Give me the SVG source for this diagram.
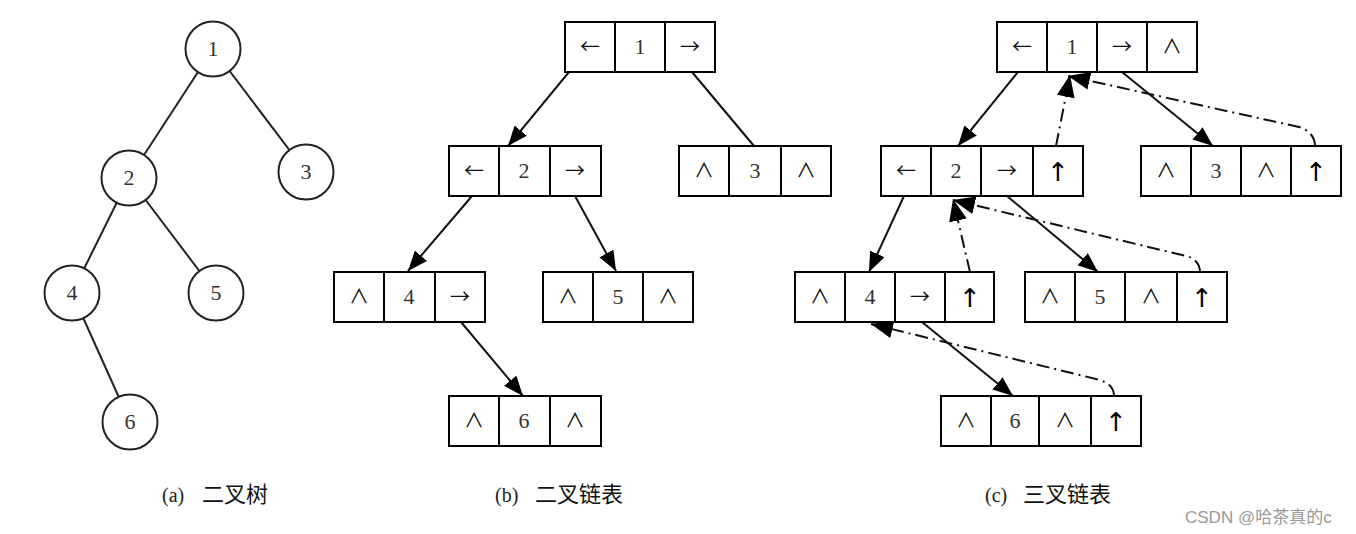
<svg xmlns="http://www.w3.org/2000/svg" width="1356" height="534" viewBox="0 0 1356 534">
<defs>
<marker id="ah" markerUnits="userSpaceOnUse" markerWidth="22" markerHeight="16" refX="20" refY="8" orient="auto">
<path d="M0,0 L20,8 L0,16 z" fill="#000"/>
</marker>
<marker id="ahp" markerUnits="userSpaceOnUse" markerWidth="24" markerHeight="18" refX="22" refY="9" orient="auto">
<path d="M0,0 L22,9 L0,18 z" fill="#000"/>
</marker>
</defs>
<style>
.c{fill:#fff;stroke:#222;stroke-width:2}
.cell{fill:#fff;stroke:#000;stroke-width:2}
.tl{stroke:#222;stroke-width:2;fill:none}
.ar{stroke:#111;stroke-width:2;fill:none;marker-end:url(#ah)}
.ln{stroke:#111;stroke-width:2;fill:none}
.pa{stroke:#111;stroke-width:2;fill:none;stroke-dasharray:13 5 2 5;marker-end:url(#ahp)}
.n{font-family:"Liberation Serif",serif;font-size:22px;fill:#333;text-anchor:middle}
.s{font-family:"Noto Sans CJK SC","DejaVu Sans",sans-serif;font-size:20px;fill:#111;text-anchor:middle}
.u{font-family:"DejaVu Sans",sans-serif;font-size:26px;fill:#000;text-anchor:middle;font-variant-emoji:text}
.lab{font-family:"Liberation Serif","Noto Sans CJK SC",serif;font-size:20px;fill:#222}
.zh{font-family:"Noto Sans CJK SC",sans-serif;font-size:22px;fill:#111}
.wm{font-family:"Liberation Sans","Noto Sans CJK SC",sans-serif;font-size:17px;fill:#999}
</style>
<rect width="1356" height="534" fill="#fff"/>

<g id="tree-a">
<g id="tree-edges">
<line class="tl" x1="213" y1="49" x2="129" y2="178"/>
<line class="tl" x1="213" y1="49" x2="306" y2="172"/>
<line class="tl" x1="129" y1="178" x2="72" y2="293"/>
<line class="tl" x1="129" y1="178" x2="216" y2="293"/>
<line class="tl" x1="72" y1="293" x2="130" y2="422"/>
</g>
<g id="a1"><circle class="c" cx="213" cy="49" r="27.5"/><text class="n" x="213" y="56">1</text></g>
<g id="a2"><circle class="c" cx="129" cy="178" r="27.5"/><text class="n" x="129" y="185">2</text></g>
<g id="a3"><circle class="c" cx="306" cy="172" r="27.5"/><text class="n" x="306" y="179">3</text></g>
<g id="a4"><circle class="c" cx="72" cy="293" r="27.5"/><text class="n" x="72" y="300">4</text></g>
<g id="a5"><circle class="c" cx="216" cy="293" r="27.5"/><text class="n" x="216" y="300">5</text></g>
<g id="a6"><circle class="c" cx="130" cy="422" r="27.5"/><text class="n" x="130" y="429">6</text></g>
</g>

<g id="connectors-b">
<line class="ar" x1="569" y1="72" x2="508" y2="146"/>
<line class="ln" x1="692" y1="72" x2="754" y2="146"/>
<line class="ar" x1="472" y1="196" x2="408" y2="271"/>
<line class="ar" x1="575" y1="196" x2="616" y2="271"/>
<line class="ar" x1="461" y1="322" x2="523" y2="396"/>
</g>

<g id="b1">
<rect class="cell" x="565" y="22" width="50" height="50"/><rect class="cell" x="615" y="22" width="50" height="50"/><rect class="cell" x="665" y="22" width="50" height="50"/>
<text class="s" x="590" y="54">←</text><text class="n" x="640" y="54">1</text><text class="s" x="690" y="54">→</text>
</g>
<g id="b2">
<rect class="cell" x="449" y="146" width="50" height="50"/><rect class="cell" x="499" y="146" width="51" height="50"/><rect class="cell" x="550" y="146" width="51" height="50"/>
<text class="s" x="474" y="178">←</text><text class="n" x="524" y="178">2</text><text class="s" x="575" y="178">→</text>
</g>
<g id="b3">
<rect class="cell" x="679" y="146" width="50" height="50"/><rect class="cell" x="729" y="146" width="52" height="50"/><rect class="cell" x="781" y="146" width="50" height="50"/>
<text class="s" x="704" y="178">∧</text><text class="n" x="755" y="178">3</text><text class="s" x="806" y="178">∧</text>
</g>
<g id="b4">
<rect class="cell" x="334" y="272" width="50" height="50"/><rect class="cell" x="384" y="272" width="51" height="50"/><rect class="cell" x="435" y="272" width="50" height="50"/>
<text class="s" x="359" y="304">∧</text><text class="n" x="409" y="304">4</text><text class="s" x="460" y="304">→</text>
</g>
<g id="b5">
<rect class="cell" x="543" y="272" width="50" height="50"/><rect class="cell" x="593" y="272" width="50" height="50"/><rect class="cell" x="643" y="272" width="50" height="50"/>
<text class="s" x="568" y="304">∧</text><text class="n" x="618" y="304">5</text><text class="s" x="668" y="304">∧</text>
</g>
<g id="b6">
<rect class="cell" x="449" y="396" width="50" height="50"/><rect class="cell" x="499" y="396" width="51" height="50"/><rect class="cell" x="550" y="396" width="51" height="50"/>
<text class="s" x="474" y="428">∧</text><text class="n" x="524" y="428">6</text><text class="s" x="575" y="428">∧</text>
</g>

<g id="connectors-c">
<line class="ar" x1="1018" y1="72" x2="958" y2="146"/>
<line class="ar" x1="1122" y1="72" x2="1213" y2="146"/>
<line class="ar" x1="904" y1="196" x2="869" y2="272"/>
<line class="ar" x1="1007" y1="196" x2="1098" y2="272"/>
<line class="ar" x1="922" y1="322" x2="1013" y2="396"/>
<path class="pa" d="M1056,146 L1070,75"/>
<path class="pa" d="M1315,146 C1315,137 1309,130 1299,127 L1068,76"/>
<path class="pa" d="M970,272 L953,199"/>
<path class="pa" d="M1200,272 C1200,264 1195,258 1186,256 L953,200"/>
<path class="pa" d="M1114,396 C1114,388 1109,383 1100,380 L871,324"/>
</g>

<g id="c1">
<rect class="cell" x="997" y="22" width="50" height="50"/><rect class="cell" x="1047" y="22" width="50" height="50"/><rect class="cell" x="1097" y="22" width="50" height="50"/><rect class="cell" x="1147" y="22" width="50" height="50"/>
<text class="s" x="1022" y="54">←</text><text class="n" x="1072" y="54">1</text><text class="s" x="1122" y="54">→</text><text class="s" x="1172" y="54">∧</text>
</g>
<g id="c2">
<rect class="cell" x="881" y="146" width="50" height="50"/><rect class="cell" x="931" y="146" width="50" height="50"/><rect class="cell" x="981" y="146" width="52" height="50"/><rect class="cell" x="1033" y="146" width="50" height="50"/>
<text class="s" x="906" y="178">←</text><text class="n" x="956" y="178">2</text><text class="s" x="1007" y="178">→</text><text class="u" x="1058" y="181">↑</text>
</g>
<g id="c3">
<rect class="cell" x="1141" y="146" width="50" height="50"/><rect class="cell" x="1191" y="146" width="50" height="50"/><rect class="cell" x="1241" y="146" width="50" height="50"/><rect class="cell" x="1291" y="146" width="50" height="50"/>
<text class="s" x="1166" y="178">∧</text><text class="n" x="1216" y="178">3</text><text class="s" x="1266" y="178">∧</text><text class="u" x="1316" y="181">↑</text>
</g>
<g id="c4">
<rect class="cell" x="795" y="272" width="50" height="50"/><rect class="cell" x="845" y="272" width="50" height="50"/><rect class="cell" x="895" y="272" width="50" height="50"/><rect class="cell" x="945" y="272" width="49" height="50"/>
<text class="s" x="820" y="304">∧</text><text class="n" x="870" y="304">4</text><text class="s" x="920" y="304">→</text><text class="u" x="970" y="307">↑</text>
</g>
<g id="c5">
<rect class="cell" x="1025" y="272" width="50" height="50"/><rect class="cell" x="1075" y="272" width="50" height="50"/><rect class="cell" x="1125" y="272" width="52" height="50"/><rect class="cell" x="1177" y="272" width="50" height="50"/>
<text class="s" x="1050" y="304">∧</text><text class="n" x="1100" y="304">5</text><text class="s" x="1151" y="304">∧</text><text class="u" x="1202" y="307">↑</text>
</g>
<g id="c6">
<rect class="cell" x="941" y="396" width="50" height="50"/><rect class="cell" x="991" y="396" width="48" height="50"/><rect class="cell" x="1039" y="396" width="52" height="50"/><rect class="cell" x="1091" y="396" width="50" height="50"/>
<text class="s" x="966" y="428">∧</text><text class="n" x="1015" y="428">6</text><text class="s" x="1065" y="428">∧</text><text class="u" x="1116" y="431">↑</text>
</g>

<g id="labels">
<text x="162" y="502"><tspan class="lab">(a)</tspan><tspan class="zh" x="202">二叉树</tspan></text>
<text x="495" y="502"><tspan class="lab">(b)</tspan><tspan class="zh" x="535">二叉链表</tspan></text>
<text x="985" y="502"><tspan class="lab">(c)</tspan><tspan class="zh" x="1023">三叉链表</tspan></text>
<text class="wm" x="1185" y="523">CSDN @哈茶真的c</text>
</g>
</svg>
